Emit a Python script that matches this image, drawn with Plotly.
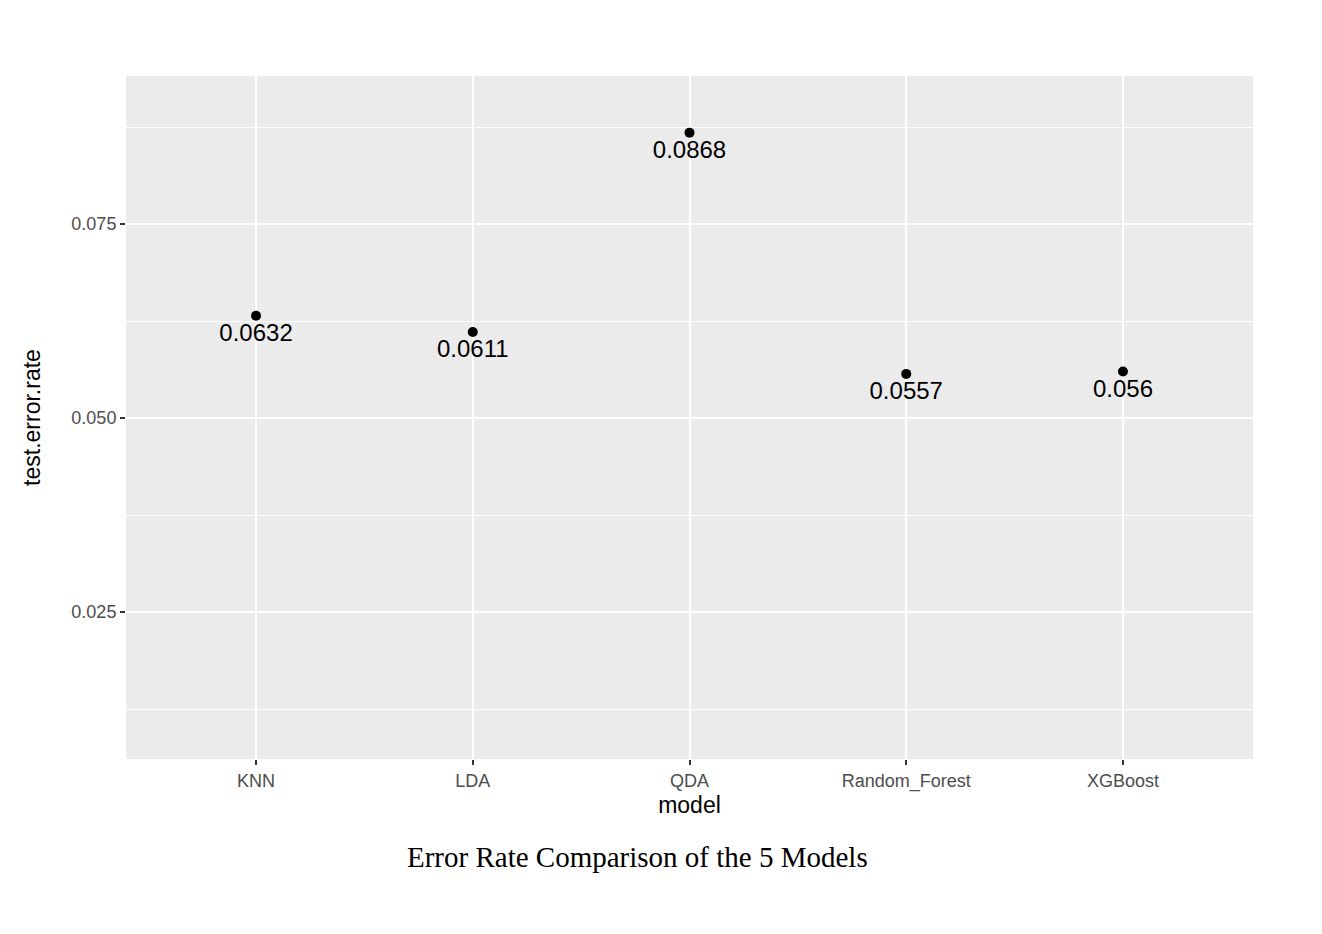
import plotly.graph_objects as go

models = ["KNN", "LDA", "QDA", "Random_Forest", "XGBoost"]
error_rates = [0.0632, 0.0611, 0.0868, 0.0557, 0.056]
y_ticks = [0.025, 0.050, 0.075]
y_tick_text = ["0.025", "0.050", "0.075"]

fig = go.Figure(go.Scatter(
    x=models,
    y=error_rates,
    mode="markers+text",
    text=[str(v) for v in error_rates],
    textposition="bottom center",
    textfont=dict(family="Liberation Sans, Arial", size=24, color="black"),
    marker=dict(size=10, color="black"),
    hoverinfo="x+y",
))

fig.update_layout(
    width=1322, height=934,
    paper_bgcolor="white",
    plot_bgcolor="#EBEBEB",
    showlegend=False,
    margin=dict(l=118, r=77, t=68, b=183),
    font=dict(family="Liberation Sans, Arial", color="#4D4D4D"),
    xaxis=dict(
        range=[-0.6, 4.6],
        showgrid=True, gridcolor="white", gridwidth=2.2,
        zeroline=False,
        ticks="outside", ticklen=5, tickcolor="#333333", tickwidth=1.5,
        tickfont=dict(size=18, color="#4D4D4D"),
        title=dict(text="model", font=dict(size=23, color="black"), standoff=6),
    ),
    yaxis=dict(
        range=[0.00606, 0.0941],
        tickvals=y_ticks, ticktext=y_tick_text,
        showgrid=True, gridcolor="white", gridwidth=2.2,
        zeroline=False,
        ticks="outside", ticklen=5, tickcolor="#333333", tickwidth=1.5,
        tickfont=dict(size=18, color="#4D4D4D"),
        minor=dict(tick0=0.0125, dtick=0.025, showgrid=True,
                   gridcolor="white", gridwidth=1.1, ticks=""),
        title=dict(text="test.error.rate", font=dict(size=23, color="black"), standoff=24),
    ),
    annotations=[dict(
        text="Error Rate Comparison of the 5 Models",
        xref="paper", yref="paper", x=0.454, y=-0.143,
        xanchor="center", yanchor="middle", showarrow=False,
        font=dict(family="Liberation Serif, Times New Roman", size=29, color="black"),
    )],
)

fig.write_html("out.html")
